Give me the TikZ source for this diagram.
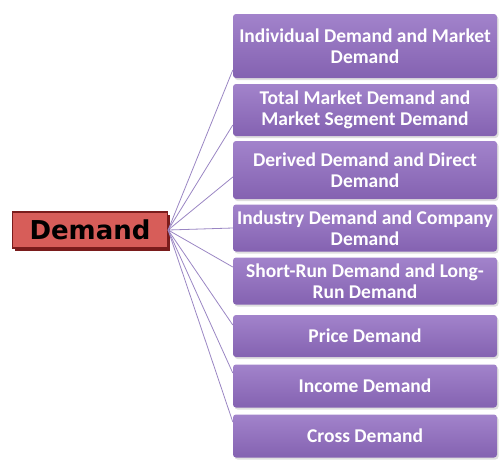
\documentclass[tikz,border=0pt]{standalone}
\usepackage{fontspec}
\setmainfont{Carlito}
\newfontfamily\demfont{DejaVu Sans}
\usetikzlibrary{calc,shadows}

\definecolor{boxtop}{HTML}{A283CB}
\definecolor{boxbot}{HTML}{8462B1}
\definecolor{linkcol}{HTML}{9A86C3}
\definecolor{demfill}{HTML}{D75D59}
\definecolor{demedge}{HTML}{7A1C1C}

\begin{document}
\begin{tikzpicture}[x=1pt,y=1pt,
  kind/.style={rectangle, rounded corners=3pt, top color=boxtop, bottom color=boxbot,
    minimum width=264pt, inner sep=1pt, align=center, text=white,
    font=\bfseries\fontsize{19.5}{21}\selectfont,
    drop shadow={shadow xshift=1.5pt, shadow yshift=-2pt, opacity=.25}},
  link/.style={linkcol, line width=.8pt}]

\useasboundingbox (0,0) rectangle (500,-475);

\node[draw=demedge, line width=1.2pt, fill=demfill, minimum width=155pt, minimum height=36pt,
  drop shadow={shadow xshift=2.5pt, shadow yshift=-2.5pt, fill=demedge, opacity=1},
  font=\demfont\bfseries\fontsize{26}{28}\selectfont] (dem) at (90,-230) {Demand};

\node[kind, minimum height=64pt] (ind) at (365,-46) {Individual Demand and Market\\Demand};
\node[kind, minimum height=52pt] (tot) at (365,-110) {Total Market Demand and\\Market Segment Demand};
\node[kind, minimum height=58pt] (der) at (365,-170) {Derived Demand and Direct\\Demand};
\node[kind, minimum height=47pt] (inc) at (365,-228) {Industry Demand and Company\\Demand};
\node[kind, minimum height=47pt] (shr) at (365,-281) {Short-Run Demand and Long-\\Run Demand};
\node[kind, minimum height=42pt] (pri) at (365,-336) {Price Demand};
\node[kind, minimum height=43pt] (inm) at (365,-386) {Income Demand};
\node[kind, minimum height=43pt] (crs) at (365,-436) {Cross Demand};

% links from the main box
\draw[link] (dem.east) -- ([yshift=-24pt]ind.west);
\draw[link] (dem.east) -- ([yshift=-15pt]tot.west);
\draw[link] (dem.east) -- ([yshift=-7pt]der.west);
\draw[link] (dem.east) -- (inc.west);
\draw[link] (dem.east) -- ([yshift=14pt]shr.west);
\draw[link] (dem.east) -- ([yshift=11pt]pri.west);
\draw[link] (dem.east) -- ([yshift=13pt]inm.west);
\draw[link] (dem.east) -- ([yshift=14pt]crs.west);
\end{tikzpicture}
\end{document}
